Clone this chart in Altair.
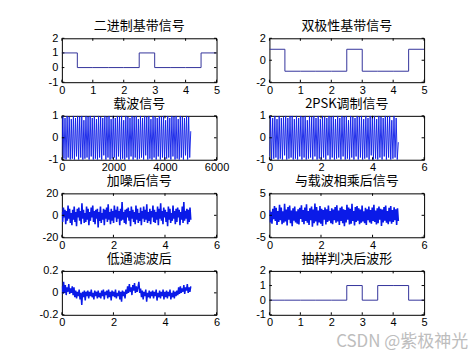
import altair as alt
import numpy as np
import pandas as pd

W, H = 155, 44

# ---------------- data ----------------
bit_times = [0, 0.5, 1, 1.5, 2, 2.5, 3, 3.5, 4, 4.5, 5]
binary_bits = [1, 0, 0, 0, 0, 1, 0, 0, 0, 1]
bipolar_bits = [1, -1, -1, -1, -1, 1, -1, -1, -1, 1]
decided_bits = [0, 0, 0, 0, 0, 1, 0, 1, 1, 0]

carrier = [-0.8, 1, -0.95, 0.9, -1, 1, -0.9, 0.95, -1, 0.85, -0.95, 1, -1, 0.9, -0.85, 1,
           -1, 0.95, -0.9, 1, -1, 0.8, -0.95, 1, -0.9, 0.95, -1, 1, -0.85, 0.9, -1, 1,
           -0.95, 0.85, -1, 1, -0.9, 0.95, -1, 0.9, -0.8, 1, -1, 0.95, -0.9, 1, -1, 0.85,
           -0.95, 1, -0.9, 0.9, -1, 1, -0.85, 0.95, -1, 1, -0.95, 0.8, -1, 1, -0.9, 0.95,
           -1, 0.9, -0.85, 1, -1, 0.95, -0.9, 1, -1, 0.85, -0.95, 1, -0.9, 0.9, -1, 1,
           -0.8, 0.95, -1, 1, -0.95, 0.85, -1, 1, -0.9, 0.95, -1, 0.9, -0.85, 1, -1, 0.95,
           -0.9, 1, -1, 0.8, -0.95, 1, -0.9, 0.9, -1, 1, -0.85, 0.95, -1, 1, -0.95, 0.85,
           -1, 1, -0.9, 0.95, -1, 0.9, -0.8, 1, -1, 0.95, -0.9, 0.3]

psk = [-0.85, 1, -1, 0.9, -0.95, 1, -0.9, 0.85, -1, 1, -0.95, 0.9, -1, 0.95, -0.8, 1,
       -1, 0.9, -0.95, 1, -0.9, 1, -1, 0.85, -0.95, 1, -1, 0.9, -0.85, 1, -1, 0.95,
       -0.9, 1, -1, 0.8, -0.95, 1, -0.9, 0.95, -1, 1, -0.85, 0.9, -1, 1, -0.95, 0.85,
       -1, 1, -0.9, 0.95, -1, 0.9, -0.8, 1, -1, 0.95, -0.9, 1, -1, 0.85, -0.95, 1,
       -0.9, 0.9, -1, 1, -0.85, 0.95, -1, 1, -0.95, 0.8, -1, 1, -0.9, 0.95, -1, 0.9,
       -0.85, 1, -1, 0.95, -0.9, 1, -1, 0.85, -0.95, 1, -0.9, 0.9, -1, 1, -0.8, 0.95,
       -1, 1, -0.95, 0.85, -1, 1, -0.9, 0.95, -1, 0.9, -0.85, 1, -1, 0.95, -0.9, 1,
       -1, 0.8, -0.95, 1, -0.9, 0.9, -1, -0.2]

noisy = [3, -6, 7, -2, 5, -8, 4, -5, 9, -3, 6, -7, 2, -9, 5, -4, 8, -6, 3, -10,
         6, -2, 7, -5, 4, -8, 11, -3, 5, -7, 2, -6, 8, -4, 6, -9, 3, -5, 7, -2,
         9, -6, 4, -8, 5, -3, 6, -11, 3, -5, 8, -7, 2, -4, 6, -9, 5, -3, 7, -6,
         10, -4, 3, -8, 6, -5, 4, -7, 9, -2, 5, -6, 8, -3, 4, -9, 6, -5, 12, -4,
         3, -7, 5, -8, 6, -2, 7, -5, 4, -10, 8, -3, 5, -6, 3, -8, 9, -4, 6, -7,
         2, -5, 7, -9, 4, -3, 8, -6, 5, -4, 10, -7, 3, -5, 6, -8, 4, -2, 9, -6,
         5, -7, 3, -4, 8, -9, 6, -3, 11, -5, 4, -8, 7, -2, 5, -6, 3, -10, 8, -4,
         6, -7, 2, -5, 9, -3, 4, -8, 6, -6, 7, -2, 5, -9, 3, -4, 8, -7, 12, -5,
         4, -3, 6, -8, 5, -6, 7, -4]

mixed = [1.2, -1.6, 0.8, -1.9, 1.5, -0.9, 2.1, -1.3, 1.7, -2.2, 1.0, -1.5, 2.4, -1.1, 1.8, -2.0,
         0.9, -1.7, 2.6, -1.4, 1.3, -2.3, 1.9, -1.0, 2.2, -1.8, 1.1, -2.5, 1.6, -1.2, 2.0, -1.6,
         0.9, -1.9, 1.4, -2.1, 1.7, -0.8, 2.3, -1.5, 1.2, -2.0, 1.8, -1.3, 2.5, -1.7, 1.0, -2.2,
         1.6, -1.1, 2.0, -2.6, 1.3, -1.8, 2.7, -1.4, 1.9, -2.3, 1.1, -1.6, 2.1, -1.9, 1.5, -2.4,
         1.2, -1.0, 1.8, -2.1, 1.4, -1.5, 2.2, -1.2, 1.0, -1.8, 1.6, -2.0, 1.3, -1.1, 1.9, -1.7,
         2.3, -1.4, 1.1, -2.2, 1.7, -1.3, 2.0, -1.8, 1.4, -2.5, 1.2, -1.6, 2.4, -1.0, 1.8, -2.1,
         1.5, -1.9, 2.6, -1.3, 1.0, -2.3, 1.9, -1.5, 2.1, -1.2, 1.6, -2.0, 1.3, -1.7, 2.2, -1.4,
         0.9, -1.8, 1.7, -2.2, 1.4, -1.1, 2.0, -1.6, 1.2, -1.9, 1.8, -1.3, 2.4, -1.5, 1.1, -2.1,
         1.6, -1.8, 2.0, -1.0, 1.5, -2.4, 1.3, -1.6, 1.9, -1.2, 2.2, -1.7, 1.0, -2.0, 1.7, -1.4,
         2.1, -1.9, 1.2, -1.5, 1.8, -1.1, 1.4, -2.2, 1.6, -1.3]

lowpass = [0.06, -0.01, 0.10, 0.00, 0.07, -0.02, 0.05, 0.01, 0.08, -0.01, 0.04, 0.00, 0.06, -0.02, 0.05,
           -0.04, 0.02, -0.05, 0.01, -0.03, 0.03, -0.06, 0.00, -0.11, 0.01, -0.04, 0.02, -0.07, 0.01, -0.03,
           0.02, -0.05, 0.01, -0.03, 0.03, -0.04, 0.00, -0.06, 0.02, -0.03, 0.01, -0.05, 0.02, -0.04, 0.00,
           -0.05, 0.02, -0.03, 0.03, -0.06, 0.01, -0.02, 0.02, -0.05, 0.03, -0.04, 0.01, -0.07, 0.02, -0.03,
           0.01, -0.04, 0.03, -0.05, 0.00, -0.03, 0.02, -0.06, 0.01, -0.08, 0.02, -0.03, 0.01, -0.05, 0.03,
           -0.01, 0.06, 0.00, 0.08, 0.01, 0.05, -0.02, 0.07, 0.02, 0.09, 0.00, 0.06, 0.01, 0.05, 0.10,
           0.00, 0.04, -0.04, 0.02, -0.06, 0.01, -0.03, 0.03, -0.08, 0.00, -0.04, 0.02, -0.05, 0.01, -0.03,
           0.02, -0.05, 0.01, -0.03, 0.03, -0.07, 0.00, -0.04, 0.02, -0.05, 0.01, -0.03, 0.03, -0.06, 0.01,
           -0.04, 0.02, -0.05, 0.01, -0.03, 0.03, -0.06, 0.00, -0.04, 0.02, -0.05, 0.01, -0.03, 0.02, -0.02,
           0.05, -0.01, 0.06, 0.00, 0.04, 0.01, 0.07, -0.01, 0.05, 0.02, 0.08, 0.00, 0.05, 0.01, 0.06]

titles = ["二进制基带信号", "双极性基带信号", "载波信号", "2PSK调制信号",
          "加噪后信号", "与载波相乘后信号", "低通滤波后", "抽样判决后波形"]
watermark = "CSDN @紫极神光"

STEP_COLOR = "#34349c"
DENSE_COLOR = "#0a1ae8"


def step_df(bits):
    return pd.DataFrame({"t": bit_times, "v": list(bits) + [bits[-1]]})


def series_df(values, t_end):
    return pd.DataFrame({"t": np.linspace(0, t_end, len(values)), "v": values})


def panel(df, title, xdom, xticks, ydom, yticks, color, interp="linear", sw=1.0, extra=None):
    xs = alt.Scale(domain=xdom, nice=False, zero=False)
    ys = alt.Scale(domain=ydom, nice=False, zero=False)
    xaxis = alt.Axis(values=xticks, ticks=False, domain=False, grid=False, title=None,
                     labelExpr="'' + datum.value", labelFlush=False, labelOverlap=False,
                     labelPadding=2, labelBound=False)
    yaxis = alt.Axis(values=yticks, ticks=False, domain=False, grid=False, title=None,
                     labelExpr="'' + datum.value", labelFlush=False, labelOverlap=False,
                     labelPadding=4, labelBound=False)
    line = alt.Chart(df).mark_line(color=color, strokeWidth=sw, interpolate=interp, clip=True).encode(
        x=alt.X("t:Q", scale=xs, axis=xaxis),
        y=alt.Y("v:Q", scale=ys, axis=yaxis),
    )
    xt = pd.DataFrame({"t": xticks})
    yt = pd.DataFrame({"v": yticks})
    tl = 2.5
    top = alt.Chart(xt).mark_rule(color="black", strokeWidth=1).encode(
        x=alt.X("t:Q", scale=xs, axis=xaxis), y=alt.value(0), y2=alt.value(tl))
    bottom = alt.Chart(xt).mark_rule(color="black", strokeWidth=1).encode(
        x=alt.X("t:Q", scale=xs, axis=xaxis), y=alt.value(H), y2=alt.value(H - tl))
    left = alt.Chart(yt).mark_rule(color="black", strokeWidth=1).encode(
        y=alt.Y("v:Q", scale=ys, axis=yaxis), x=alt.value(0), x2=alt.value(tl))
    right = alt.Chart(yt).mark_rule(color="black", strokeWidth=1).encode(
        y=alt.Y("v:Q", scale=ys, axis=yaxis), x=alt.value(W), x2=alt.value(W - tl))
    layers = [line, top, bottom, left, right]
    if extra is not None:
        layers.append(extra)
    return alt.layer(*layers).properties(
        width=W, height=H,
        title=alt.TitleParams(title, fontSize=13, font="Noto Sans CJK SC", fontWeight="normal",
                              color="black", offset=-1, anchor="middle"),
    )


wm = alt.Chart(pd.DataFrame({"s": [watermark]})).mark_text(
    font="Noto Sans CJK SC", fontSize=17, color="#bdbdbd", align="center", baseline="middle"
).encode(text="s:N", x=alt.value(133), y=alt.value(71))

p1 = panel(step_df(binary_bits), titles[0], [0, 5], [0, 1, 2, 3, 4, 5], [-1, 2], [-1, 0, 1, 2],
           STEP_COLOR, "step-after")
p2 = panel(step_df(bipolar_bits), titles[1], [0, 5], [0, 1, 2, 3, 4, 5], [-2, 2], [-2, 0, 2],
           STEP_COLOR, "step-after")
p3 = panel(series_df(carrier, 5000), titles[2], [0, 6000], [0, 2000, 4000, 6000], [-1, 1], [-1, 0, 1],
           DENSE_COLOR, sw=0.9)
p4 = panel(series_df(psk, 5), titles[3], [0, 6], [0, 2, 4, 6], [-1, 1], [-1, 0, 1], DENSE_COLOR, sw=0.9)
p5 = panel(series_df(noisy, 5), titles[4], [0, 6], [0, 2, 4, 6], [-20, 20], [-20, 0, 20], DENSE_COLOR,
           sw=1.6)
p6 = panel(series_df(mixed, 5), titles[5], [0, 6], [0, 2, 4, 6], [-5, 5], [-5, 0, 5], DENSE_COLOR,
           sw=1.6)
p7 = panel(series_df(lowpass, 5), titles[6], [0, 6], [0, 2, 4, 6], [-0.2, 0.2], [-0.2, 0, 0.2],
           DENSE_COLOR, sw=1.5)
p8 = panel(step_df(decided_bits), titles[7], [0, 5], [0, 1, 2, 3, 4, 5], [-1, 2], [-1, 0, 1, 2],
           STEP_COLOR, "step-after", extra=wm)

chart = alt.concat(p1, p2, p3, p4, p5, p6, p7, p8, columns=2,
                   spacing={"row": 33.7, "column": 53}, bounds="flush").properties(
    padding={"left": 38, "top": 19, "right": 5, "bottom": 5},
    background="white",
).configure_view(stroke="black", strokeWidth=1).configure_axis(
    labelFont="Liberation Sans", labelFontSize=11, labelColor="black"
)

chart.save("out.html", embed_options={"renderer": "svg", "actions": False})
